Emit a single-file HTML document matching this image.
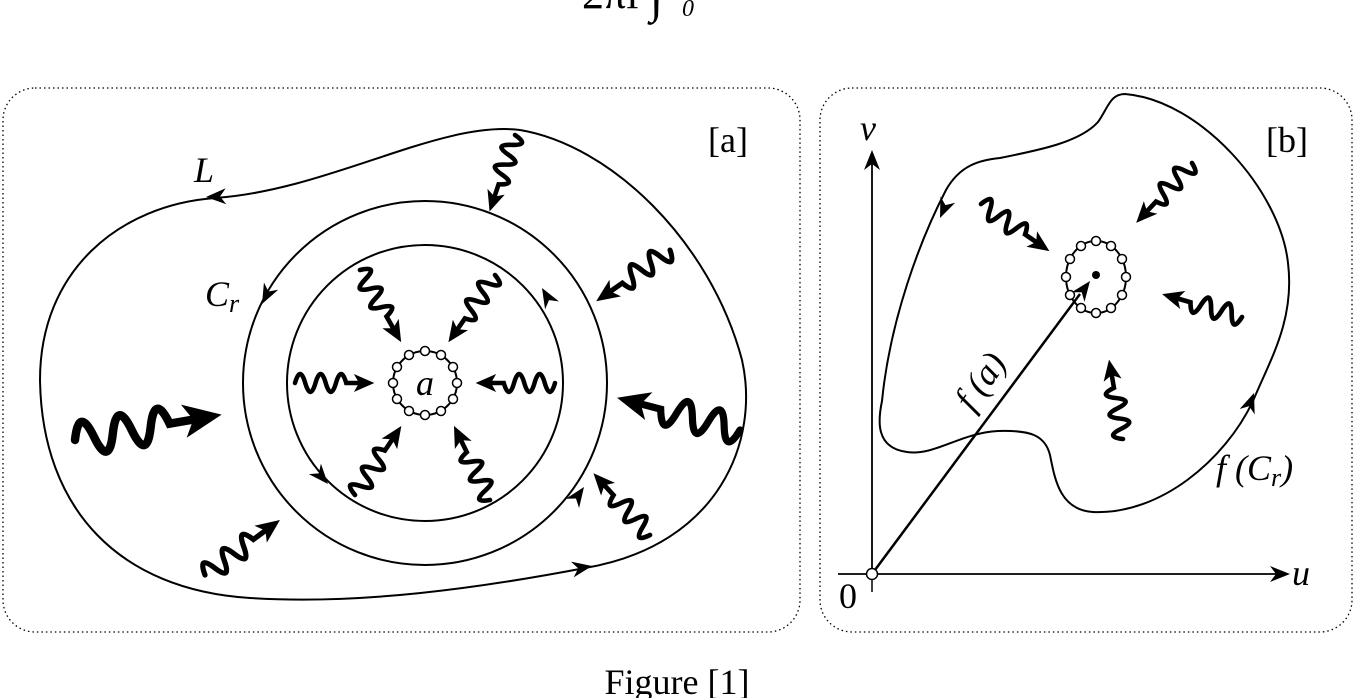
<!DOCTYPE html>
<html><head><meta charset="utf-8"><style>
html,body{margin:0;padding:0;background:#fff;width:1355px;height:698px;overflow:hidden}
svg{display:block}
text{font-family:"Liberation Serif",serif;fill:#000}
</style></head><body>
<svg width="1355" height="698" viewBox="0 0 1355 698" xmlns="http://www.w3.org/2000/svg">
<defs>
<g id="w">
<path d="M0,0 q4,-14 8,0 t8,0 t8,0 t8,0 t8,0 L56,0" fill="none" stroke="#000" stroke-width="3.5" stroke-linecap="round"/>
<path d="M62,0 L46,-7 L50,0 L46,7 Z" fill="#000"/>
</g>
<path id="ah" d="M0,0 L-20,-8 L-14,0 L-20,8 Z" fill="#000"/>
</defs>

<text x="582" y="8" font-size="44">2πi</text>
<text x="650" y="12" font-size="48" font-style="italic">∫</text>
<text x="682" y="16" font-size="24" font-style="italic">0</text>

<rect x="3" y="88" width="797" height="544" rx="32" fill="none" stroke="#000" stroke-width="1.3" stroke-dasharray="1.5,3"/>
<rect x="820" y="88" width="532" height="544" rx="32" fill="none" stroke="#000" stroke-width="1.3" stroke-dasharray="1.5,3"/>

<!-- left panel -->
<path d="M520,130 C610,145 710,240 742,360 C760,440 720,545 585,568 C480,588 360,605 250,598 C120,590 42,510 40,380 C40,270 120,205 215,198 C330,190 440,120 520,130 Z" fill="none" stroke="#000" stroke-width="2"/>
<circle cx="425" cy="383" r="182" fill="none" stroke="#000" stroke-width="2"/>
<circle cx="425" cy="383" r="138" fill="none" stroke="#000" stroke-width="2"/>
<use href="#ah" transform="translate(206,197) rotate(178)"/>
<use href="#ah" transform="translate(592,566) rotate(-10)"/>
<use href="#ah" transform="translate(262,304) rotate(117)"/>
<use href="#ah" transform="translate(584,487) rotate(-55)"/>
<use href="#ah" transform="translate(328,484) rotate(49)"/>
<use href="#ah" transform="translate(542,288) rotate(-120)"/>

<g fill="#fff" stroke="#000" stroke-width="1.5">
<circle cx="425" cy="383" r="32" fill="none" stroke-width="2"/>
<circle cx="457" cy="383" r="4.5"/><circle cx="453" cy="399" r="4.5"/><circle cx="441" cy="411" r="4.5"/>
<circle cx="425" cy="415" r="4.5"/><circle cx="409" cy="411" r="4.5"/><circle cx="397" cy="399" r="4.5"/>
<circle cx="393" cy="383" r="4.5"/><circle cx="397" cy="367" r="4.5"/><circle cx="409" cy="355" r="4.5"/>
<circle cx="425" cy="351" r="4.5"/><circle cx="441" cy="355" r="4.5"/><circle cx="453" cy="367" r="4.5"/>
</g>
<text x="425" y="395" font-size="36" font-style="italic" text-anchor="middle">a</text>

<use href="#w" transform="translate(295,383) rotate(0) scale(1.28)"/>
<use href="#w" transform="translate(555,383) rotate(180) scale(1.28)"/>
<use href="#w" transform="translate(360,270) rotate(60.3) scale(1.34)"/>
<use href="#w" transform="translate(495,275) rotate(124.7) scale(1.32)"/>
<use href="#w" transform="translate(355,495) rotate(-56.1) scale(1.34)"/>
<use href="#w" transform="translate(490,500) rotate(-115.9) scale(1.33)"/>
<use href="#w" transform="translate(75,440) rotate(-9.8) scale(2.4)"/>
<use href="#w" transform="translate(515,135) rotate(108.4) scale(1.3)"/>
<use href="#w" transform="translate(670,250) rotate(145.2) scale(1.45)"/>
<use href="#w" transform="translate(740,430) rotate(194.7) scale(2.05)"/>
<use href="#w" transform="translate(650,535) rotate(227.5) scale(1.35)"/>
<use href="#w" transform="translate(205,575) rotate(-36.3) scale(1.5)"/>

<text x="194" y="182" font-size="36" font-style="italic">L</text>
<text x="205" y="306" font-size="36" font-style="italic">C<tspan font-size="26" dy="6">r</tspan></text>
<text x="708" y="152" font-size="36">[a]</text>

<!-- right panel -->
<line x1="872" y1="574" x2="872" y2="160" stroke="#000" stroke-width="1.8"/>
<use href="#ah" transform="translate(872,150) rotate(-90)"/>
<line x1="872" y1="592" x2="872" y2="574" stroke="#000" stroke-width="1.5"/>
<line x1="838" y1="574" x2="1280" y2="574" stroke="#000" stroke-width="1.8"/>
<use href="#ah" transform="translate(1290,574)"/>
<path d="M1125,94 C1200,100 1280,190 1288,263 C1295,320 1270,360 1253,401 C1225,460 1160,515 1093,512 C1060,510 1055,480 1050,455 C1045,435 1030,430 998,431 C960,433 935,456 907,452 C875,448 878,420 882,401 C890,320 920,240 946,190 C960,165 980,160 1000,158 C1040,150 1080,142 1098,122 C1108,108 1110,94 1125,94 Z" fill="none" stroke="#000" stroke-width="2"/>
<use href="#ah" transform="translate(940,218) rotate(113)"/>
<use href="#ah" transform="translate(1254,393) rotate(-70)"/>

<line x1="872" y1="574" x2="1080" y2="294" stroke="#000" stroke-width="2.5"/>
<use href="#ah" transform="translate(1090,281) rotate(-53.4)"/>
<g fill="#fff" stroke="#000" stroke-width="1.5">
<ellipse cx="1096" cy="277" rx="30" ry="36" fill="none" stroke-width="2"/>
<circle cx="1126" cy="277" r="4.5"/><circle cx="1122" cy="295" r="4.5"/><circle cx="1111" cy="308" r="4.5"/>
<circle cx="1096" cy="313" r="4.5"/><circle cx="1081" cy="308" r="4.5"/><circle cx="1070" cy="295" r="4.5"/>
<circle cx="1066" cy="277" r="4.5"/><circle cx="1070" cy="259" r="4.5"/><circle cx="1081" cy="246" r="4.5"/>
<circle cx="1096" cy="241" r="4.5"/><circle cx="1111" cy="246" r="4.5"/><circle cx="1122" cy="259" r="4.5"/>
</g>
<circle cx="1096" cy="275" r="4" fill="#000"/>
<circle cx="872" cy="574" r="5.5" fill="#fff" stroke="#000" stroke-width="1.5"/>

<use href="#w" transform="translate(981,204) rotate(34.6) scale(1.34)"/>
<use href="#w" transform="translate(1192,163) rotate(133) scale(1.32)"/>
<use href="#w" transform="translate(1242,317) rotate(196) scale(1.34)"/>
<use href="#w" transform="translate(1123,439) rotate(260) scale(1.3)"/>

<text x="0" y="0" font-size="36" font-style="italic" transform="translate(990,388) rotate(-55)" text-anchor="middle">f (a)</text>
<text x="1216" y="480" font-size="36" font-style="italic">f (C<tspan font-size="26" dy="6">r</tspan><tspan dy="-6">)</tspan></text>
<text x="860" y="140" font-size="36" font-style="italic">v</text>
<text x="1292" y="585" font-size="36" font-style="italic">u</text>
<text x="839" y="608" font-size="36">0</text>
<text x="1266" y="152" font-size="36">[b]</text>

<text x="677" y="694" font-size="36" text-anchor="middle">Figure [1]</text>
</svg>
</body></html>
